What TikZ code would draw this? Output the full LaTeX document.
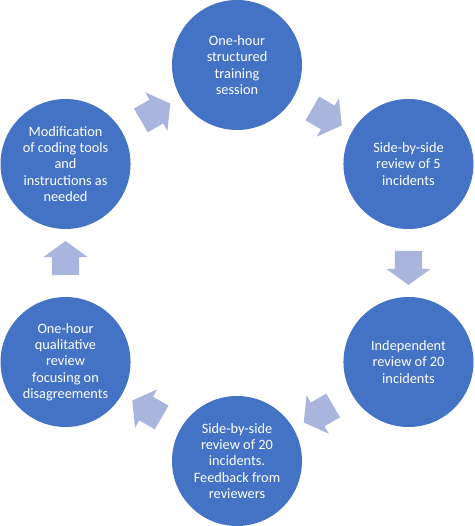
\documentclass[tikz,border=0pt]{standalone}
\usepackage{fontspec}
\setmainfont{Carlito}
\usetikzlibrary{shapes.arrows,calc}
\definecolor{stageblue}{RGB}{68,114,196}
\definecolor{flowblue}{RGB}{169,181,221}
\begin{document}
\begin{tikzpicture}[
    stage/.style={circle, fill=stageblue, draw=none, minimum size=130pt, inner sep=0pt,
        text=white, align=center, font=\fontsize{14.3pt}{16.3pt}\selectfont},
    flow/.style={single arrow, fill=flowblue, draw=none, minimum height=34pt, minimum width=44pt,
        inner xsep=0pt, inner ysep=13.5pt, single arrow head extend=8.5pt, single arrow tip angle=108}
]
    \useasboundingbox (-237pt,-263pt) rectangle (237pt,263pt);

    % the six steps of the cycle
    \node[stage] (training) at (90:198pt) {One-hour\\structured\\training\\session};
    \node[stage] (sidefive) at (30:198pt) {Side-by-side\\review of 5\\incidents};
    \node[stage] (indep) at (-30:198pt) {Independent\\review of 20\\incidents};
    \node[stage] (sidetwenty) at (-90:198pt) {Side-by-side\\review of 20\\incidents.\\Feedback from\\reviewers};
    \node[stage] (qualit) at (210:198pt) {One-hour\\qualitative\\review\\focusing on\\disagreements};
    \node[stage] (modif) at (150:198pt) {Modification\\of coding tools\\and\\instructions as\\needed};

    % arrows between them, clockwise
    \node[flow, rotate=-30] (f1) at ($(training)!0.5!(sidefive)$) {};
    \node[flow, rotate=-90] (f2) at ($(sidefive)!0.5!(indep)$) {};
    \node[flow, rotate=-150] (f3) at ($(indep)!0.5!(sidetwenty)$) {};
    \node[flow, rotate=150] (f4) at ($(sidetwenty)!0.5!(qualit)$) {};
    \node[flow, rotate=90] (f5) at ($(qualit)!0.5!(modif)$) {};
    \node[flow, rotate=30] (f6) at ($(modif)!0.5!(training)$) {};
\end{tikzpicture}
\end{document}
